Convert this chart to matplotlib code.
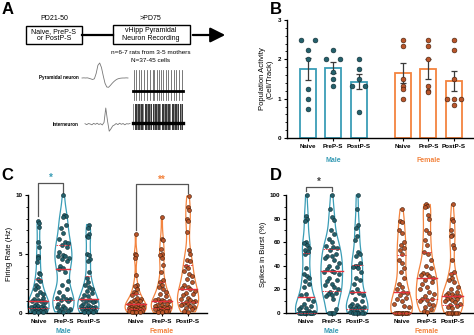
import numpy as np
import matplotlib
matplotlib.use("Agg")
import matplotlib.pyplot as plt
from matplotlib import cbook, mlab
from matplotlib.patches import Rectangle
from matplotlib.ticker import MultipleLocator, AutoMinorLocator
import matplotlib.transforms as mtransforms

plt.rcParams['font.family'] = ['Liberation Sans', 'DejaVu Sans']
plt.rcParams['font.weight'] = 'bold'

groups = ["Naive", "PreP-S", "PostP-S", "Naive", "PreP-S", "PostP-S"]

# population activity (cells/track), one value per rat
pop_male_naive = [2.5, 2.5, 2.25, 2.0, 1.25, 1.0, 0.75]
pop_male_prep = [2.25, 2.0, 2.0, 1.67, 1.5, 1.33]
pop_male_postp = [2.0, 1.75, 1.5, 1.33, 1.33, 0.67]
pop_female_naive = [2.5, 2.33, 1.5, 1.33, 1.25, 1.0]
pop_female_prep = [2.5, 2.33, 2.0, 1.33, 1.2, 1.17]
pop_female_postp = [2.5, 2.25, 1.5, 1.0, 1.0, 1.0, 0.83]

# firing rate (Hz), one value per cell
fr_male_naive = [7.8, 7.6, 7.3, 6.0, 5.6, 4.8, 4.7, 4.3, 3.4, 3.3, 2.9, 2.7, 2.4, 2.2,
                 2.0, 1.8, 1.6, 1.5, 1.3, 1.2, 1.1, 1.0, 1.0, 0.9, 0.8, 0.7, 0.6, 0.6,
                 0.5, 0.5, 0.4, 0.4, 0.35, 0.3, 0.3, 0.25, 0.2, 0.2, 0.15, 0.1, 0.1, 0.05]
fr_male_prep = [10.0, 8.3, 8.2, 8.1, 7.5, 7.2, 6.8, 6.3, 6.0, 5.9, 5.8, 5.6, 5.2, 4.9,
                4.8, 4.8, 4.7, 4.6, 4.4, 4.0, 3.8, 3.7, 3.5, 2.7, 2.4, 2.0, 1.8, 1.4,
                1.3, 1.2, 1.2, 1.1, 1.0, 0.8, 0.6, 0.5, 0.4, 0.3, 0.3, 0.2, 0.15, 0.1]
fr_male_postp = [7.5, 7.2, 6.7, 6.5, 6.4, 5.0, 4.9, 4.6, 4.4, 3.5, 3.0, 2.6, 2.4, 2.2,
                 2.0, 1.9, 1.7, 1.5, 1.4, 1.2, 1.1, 1.0, 1.0, 0.9, 0.8, 0.7, 0.6, 0.5,
                 0.5, 0.45, 0.4, 0.35, 0.3, 0.3, 0.25, 0.2, 0.15, 0.1, 0.1, 0.05]
fr_female_naive = [6.7, 5.0, 4.9, 4.7, 3.2, 2.4, 2.3, 2.0, 1.8, 1.7, 1.5, 1.3, 1.2, 1.1,
                   1.0, 0.9, 0.9, 0.8, 0.8, 0.7, 0.6, 0.6, 0.55, 0.5, 0.45, 0.4, 0.4,
                   0.35, 0.3, 0.3, 0.25, 0.2, 0.2, 0.15, 0.1, 0.1, 0.05, 0.05]
fr_female_prep = [8.1, 6.3, 6.2, 5.4, 5.0, 4.9, 4.7, 4.1, 3.5, 2.8, 2.6, 2.4, 2.2, 2.0,
                  1.8, 1.6, 1.4, 1.2, 1.1, 1.1, 1.0, 1.0, 0.9, 0.8, 0.7, 0.7, 0.6, 0.5,
                  0.5, 0.45, 0.4, 0.35, 0.3, 0.3, 0.25, 0.2, 0.2, 0.15, 0.1, 0.05]
fr_female_postp = [9.9, 9.0, 8.7, 8.0, 7.8, 6.9, 5.3, 5.0, 4.5, 4.4, 4.0, 3.8, 3.6, 3.3,
                   3.1, 2.9, 2.6, 2.4, 2.2, 2.1, 2.0, 1.9, 1.7, 1.6, 1.5, 1.3, 1.2, 1.1,
                   1.0, 0.9, 0.9, 0.8, 0.75, 0.7, 0.6, 0.5, 0.4, 0.3, 0.2, 0.1]

# spikes in burst (%), one value per cell
sib_male_naive = [100, 82, 80, 78, 60, 59, 58, 55, 53, 52, 50, 38, 33, 31, 30, 27, 25, 22,
                  16, 15, 12, 10, 8, 6, 5, 4, 3, 2, 1, 0, 0, 0, 0, 0, 0, 0, 0, 0, 0, 0]
sib_male_prep = [100, 88, 81, 79, 70, 67, 63, 60, 57, 56, 55, 53, 50, 48, 48, 47, 45, 42,
                 40, 39, 37, 36, 35, 35, 33, 30, 28, 27, 25, 24, 22, 20, 18, 17, 16, 15,
                 14, 12, 3, 0, 0, 0, 0]
sib_male_postp = [100, 88, 75, 72, 65, 62, 52, 50, 48, 42, 40, 40, 39, 38, 35, 30, 28, 25,
                  20, 18, 17, 15, 12, 10, 8, 7, 6, 5, 5, 4, 3, 3, 2, 1, 0, 0, 0, 0, 0, 0]
sib_female_naive = [88, 78, 77, 70, 68, 60, 58, 55, 53, 50, 45, 42, 38, 35, 30, 25, 22, 20,
                    18, 17, 15, 13, 12, 10, 8, 6, 5, 0, 0, 0, 0, 0, 0, 0, 0, 0, 0, 0]
sib_female_prep = [92, 91, 90, 83, 80, 70, 68, 62, 58, 52, 50, 45, 40, 38, 34, 33, 32, 31,
                   30, 28, 26, 25, 22, 20, 18, 16, 14, 12, 12, 11, 10, 8, 7, 5, 3, 2, 1]
sib_female_postp = [92, 80, 78, 70, 66, 65, 58, 55, 45, 35, 33, 30, 28, 26, 22, 20, 18, 17,
                    16, 15, 14, 14, 13, 12, 12, 11, 10, 9, 8, 7, 6, 5, 4, 0, 0, 0, 0, 0, 0, 0]

# example recordings
pyr_waveform = [0, 0.01, 0, 0.01, -0.02, -0.06, -0.1, -0.05, 0.3, 0.85, 1.0, 0.7, 0.15,
                -0.35, -0.6, -0.62, -0.5, -0.36, -0.24, -0.14, -0.07, -0.03, -0.01, 0, 0, 0.01, 0]
int_waveform = [0.02, -0.04, 0.03, 0.0, -0.05, 0.04, -0.02, 0.05, -0.03, 0.02, -0.06, 0.1,
                1.0, 0.2, -0.45, -0.3, -0.12, -0.06, 0.03, -0.04, 0.05, -0.02, 0.03, -0.05,
                0.02, 0.0, 0.03]
pyr_spikes = [20, 70, 130, 165, 230, 290, 340, 395, 420, 480, 530, 560, 600, 660, 700,
              760, 820, 860, 915, 975]
int_spikes = [10, 35, 55, 80, 100, 120, 150, 170, 185, 210, 240, 255, 280, 300, 330, 345,
              370, 395, 420, 440, 455, 480, 505, 530, 550, 575, 600, 615, 640, 665, 690,
              705, 730, 750, 775, 800, 820, 845, 870, 885, 910, 935, 955, 980]

male_col = '#3a9db6'
female_col = '#f3843f'
male_dot = '#24606b'
female_dot = '#b9552a'
edge_cols = [male_col] * 3 + [female_col] * 3
dot_cols = [male_dot] * 3 + [female_dot] * 3
dot_edges = ['#0e2a30'] * 3 + ['#3d1a08'] * 3
median_col = '#e3303d'

fig = plt.figure(figsize=(4.74, 3.35), dpi=100)
W, H = 474.0, 335.0


def px_axes(x0, y0, x1, y1):
    return fig.add_axes([x0 / W, 1 - y1 / H, (x1 - x0) / W, (y1 - y0) / H])


def style_axes(ax, labels, positions, xlim):
    for s in ['top', 'right']:
        ax.spines[s].set_visible(False)
    for s in ['left', 'bottom']:
        ax.spines[s].set_linewidth(1.0)
    ax.set_xticks(positions)
    ax.set_xticklabels(labels)
    ax.set_xlim(*xlim)
    ax.tick_params(axis='both', labelsize=4.5, length=2.5, width=0.8, pad=1.5)
    ax.tick_params(axis='y', which='minor', length=1.5, width=0.6)


def sex_labels(ax, positions, y):
    tr = mtransforms.blended_transform_factory(ax.transData, ax.transAxes)
    ax.text(positions[1], y, "Male", color=male_col, fontsize=5, ha='center',
            va='center', transform=tr, clip_on=False)
    ax.text(positions[4], y, "Female", color=female_col, fontsize=5, ha='center',
            va='center', transform=tr, clip_on=False)


def draw_violins(ax, data, positions, width=0.8, bw=0.35):
    def kde(x, coords):
        return mlab.GaussianKDE(x, bw).evaluate(coords)
    stats = cbook.violin_stats(data, kde, points=200)
    parts = ax.violin(stats, positions=positions, widths=width, showextrema=False)
    for body, ec in zip(parts['bodies'], edge_cols):
        body.set_facecolor('none')
        body.set_edgecolor(ec)
        body.set_linewidth(0.9)
        body.set_alpha(1)
        body.set_clip_on(False)
    pattern = np.array([0, -0.55, 0.55, -0.25, 0.8, 0.25, -0.8])
    for st, pos, vals, dc, de in zip(stats, positions, data, dot_cols, dot_edges):
        coords = st['coords']
        half = 0.5 * width * st['vals'] / st['vals'].max()
        v = np.asarray(vals, dtype=float)
        rank = np.argsort(np.argsort(v))
        offs = np.interp(v, coords, half) * 0.85 * pattern[rank % len(pattern)]
        ax.scatter(pos + offs, v, s=8, color=dc, edgecolors=de, linewidths=0.4,
                   zorder=3, clip_on=False)
        for q, ls, lw in [(25, (0, (2, 1)), 0.6), (50, '-', 1.0), (75, (0, (2, 1)), 0.6)]:
            qv = np.percentile(v, q)
            hw = np.interp(qv, coords, half)
            ax.plot([pos - hw, pos + hw], [qv, qv], color=median_col, lw=lw, ls=ls,
                    zorder=4, clip_on=False)


def bracket(ax, x0, x1, y, y0, y1, star, col):
    ax.plot([x0, x0, x1, x1], [y0, y, y, y1], color='#555555', lw=0.9, clip_on=False)
    ax.text((x0 + x1) / 2, y, star, color=col, fontsize=7, ha='center', va='bottom',
            clip_on=False)


# ---------------- panel A: schematic ----------------
axA = fig.add_axes([0, 0, 1, 1])
axA.set_xlim(0, W)
axA.set_ylim(H, 0)
axA.axis('off')

axA.add_patch(Rectangle((26, 26), 56, 18, fill=False, lw=1.0, ec='black'))
axA.add_patch(Rectangle((113, 25), 77, 19, fill=False, lw=1.0, ec='black'))
axA.plot([82, 113], [35, 35], color='black', lw=1.6)
axA.annotate('', xy=(228, 35), xytext=(190, 35),
             arrowprops=dict(arrowstyle='-|>,head_length=0.9,head_width=0.45',
                             color='black', lw=1.6))
axA.text(54, 19, "PD21-50", fontsize=5, ha='center', va='center', fontweight='normal')
axA.text(54, 35, "Naive, PreP-S\nor PostP-S", fontsize=5, ha='center', va='center',
         fontweight='normal', linespacing=1.1)
axA.text(151, 19, ">PD75", fontsize=5, ha='center', va='center', fontweight='normal')
axA.text(151, 34.5, "vHipp Pyramidal\nNeuron Recording", fontsize=5, ha='center',
         va='center', fontweight='normal', linespacing=1.1)
axA.text(151, 52, "n=6-7 rats from 3-5 mothers", fontsize=4.6, ha='center', va='center',
         fontweight='normal')
axA.text(151, 61, "N=37-45 cells", fontsize=4.6, ha='center', va='center',
         fontweight='normal')

axA.text(79, 78, "Pyramidal neuron", fontsize=3.3, ha='right', va='center')
axA.text(79, 124, "Interneuron", fontsize=3.3, ha='right', va='center')

pw = np.asarray(pyr_waveform)
axA.plot(np.linspace(82, 128, len(pw)), 78 - pw * 15, color='#777777', lw=0.6)
iw = np.asarray(int_waveform)
axA.plot(np.linspace(85, 130, len(iw)), 124 - iw * 16, color='#777777', lw=0.6)

for t in pyr_spikes:
    x = 133 + t / 1000 * 50
    axA.plot([x, x], [70, 100], color='#555555', lw=0.55)
axA.plot([133, 183], [91, 91], color='black', lw=2.0)
for i, t in enumerate(int_spikes):
    x = 133 + t / 1000 * 50
    axA.plot([x, x], [104, 129], color='#333333' if i % 3 else '#888888', lw=0.7)
axA.plot([133, 183], [123, 123], color='black', lw=2.4)

for letter, x, y in [("A", 2, 9), ("B", 270, 9), ("C", 1, 175), ("D", 270, 175)]:
    axA.text(x, y, letter, fontsize=12, fontweight='bold', ha='left', va='center')

# ---------------- panel B: population activity ----------------
posB = [0, 1, 2, 3.75, 4.75, 5.75]
axB = px_axes(287, 20, 474, 138)
pop_data = [pop_male_naive, pop_male_prep, pop_male_postp,
            pop_female_naive, pop_female_prep, pop_female_postp]
for pos, vals, ec, dc, de in zip(posB, pop_data, edge_cols, dot_cols, dot_edges):
    v = np.asarray(vals)
    m = v.mean()
    sem = v.std(ddof=1) / np.sqrt(len(v))
    axB.bar(pos, m, width=0.63, color='white', edgecolor=ec, lw=1.3, zorder=1)
    axB.errorbar(pos, m, yerr=sem, color='#3a3a3a', capsize=2.5, lw=0.9, capthick=0.9,
                 zorder=2)
    offs = np.zeros(len(v))
    uniq, counts = np.unique(np.round(v, 2), return_counts=True)
    for u, c in zip(uniq, counts):
        idx = np.where(np.round(v, 2) == u)[0]
        if c > 1:
            offs[idx] = np.linspace(-0.27, 0.27, c)
    axB.scatter(pos + offs, v, s=12, color=dc, edgecolors=de, linewidths=0.4, zorder=3)
axB.set_ylim(0, 3)
axB.yaxis.set_major_locator(MultipleLocator(1))
axB.yaxis.set_minor_locator(AutoMinorLocator(5))
style_axes(axB, groups, posB, (-0.82, 6.55))
axB.set_ylabel("Population Activity\n(Cell/Track)", fontsize=5.5, labelpad=3,
               linespacing=1.1)
sex_labels(axB, posB, -0.19)

# ---------------- panel C: firing rate ----------------
posC = [0, 1, 2, 3.9, 4.95, 6.0]
axC = px_axes(28, 195, 207, 313)
draw_violins(axC, [fr_male_naive, fr_male_prep, fr_male_postp,
                   fr_female_naive, fr_female_prep, fr_female_postp], posC, width=0.85)
axC.set_ylim(0, 10)
axC.yaxis.set_major_locator(MultipleLocator(5))
axC.yaxis.set_minor_locator(AutoMinorLocator(5))
style_axes(axC, groups, posC, (-0.42, 6.76))
axC.set_ylabel("Firing Rate (Hz)", fontsize=5.5, labelpad=2)
bracket(axC, posC[0], posC[1], 11.0, 8.2, 10.2, "*", male_col)
bracket(axC, posC[3], posC[5], 10.9, 7.0, 10.2, "**", female_col)
sex_labels(axC, posC, -0.16)

# ---------------- panel D: spikes in burst ----------------
axD = px_axes(286, 195, 474, 313)
draw_violins(axD, [sib_male_naive, sib_male_prep, sib_male_postp,
                   sib_female_naive, sib_female_prep, sib_female_postp], posB, width=0.85)
axD.set_ylim(0, 100)
axD.yaxis.set_major_locator(MultipleLocator(20))
axD.yaxis.set_minor_locator(AutoMinorLocator(2))
style_axes(axD, groups, posB, (-0.8, 6.6))
axD.set_ylabel("Spikes in Burst (%)", fontsize=5.5, labelpad=2)
bracket(axD, posB[0], posB[1], 107, 103, 103, "*", '#444444')
sex_labels(axD, posB, -0.16)

fig.savefig("out.png", dpi=100)
